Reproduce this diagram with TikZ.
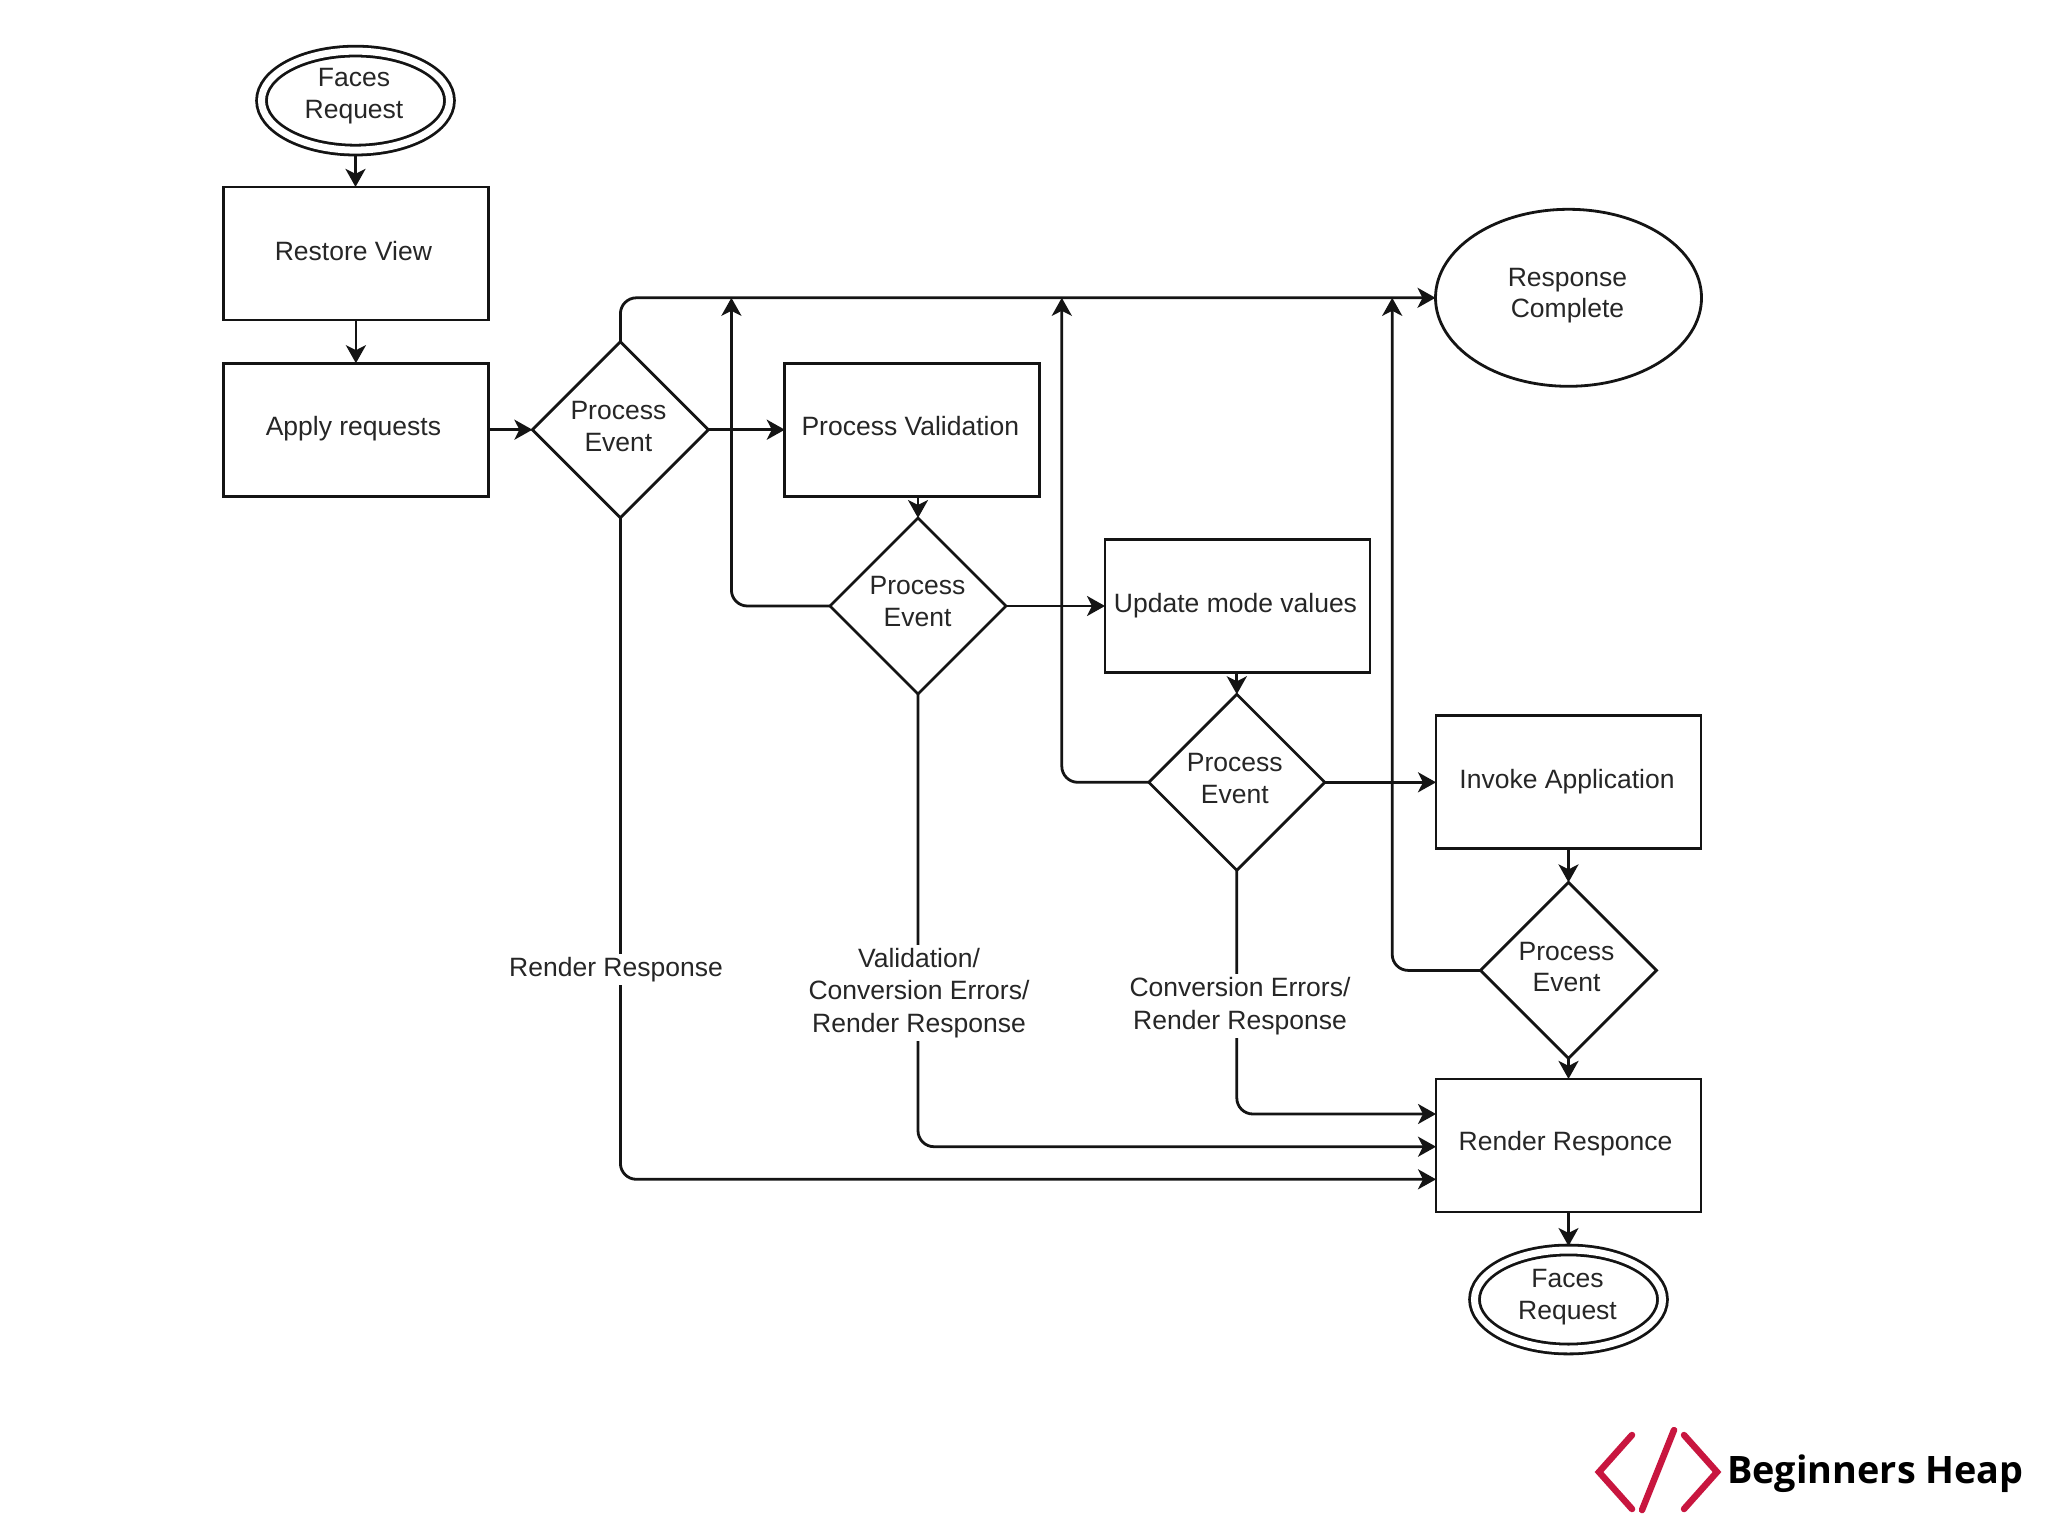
\documentclass[tikz,border=0pt]{standalone}
\usepackage{fontspec}
\setmainfont{Liberation Sans}
\newfontfamily\logofont{Open Sans}
\usetikzlibrary{arrows.meta,shapes.geometric}
\definecolor{ink}{HTML}{141414}
\definecolor{tagink}{HTML}{262626}
\definecolor{logored}{HTML}{C8163F}
\newcommand\nudge[3]{\raisebox{#2}[\height][\depth]{\begin{tabular}{@{}c@{}}#3\end{tabular}}\kern#1}
\tikzset{
  base/.style={draw=ink,line width=2.8pt,text=tagink,font=\fontsize{26.5}{31.5}\selectfont,inner sep=0pt,outer sep=0pt},
  boxnode/.style={base,rectangle,minimum width=265,minimum height=133},
  decision/.style={base,diamond,aspect=1,minimum width=176,minimum height=176},
  terminal/.style={base,ellipse,minimum width=188,minimum height=99,double=white,double distance=7pt,outer sep=4pt},
  finalnode/.style={base,ellipse,minimum width=266,minimum height=177},
  tag/.style={fill=white,text=tagink,font=\fontsize{26.5}{32.5}\selectfont,align=center,inner sep=3pt},
  flow/.style={draw=ink,line width=2.8pt,rounded corners=16pt,-{Stealth[length=18pt,width=20pt,inset=5pt]}},
  logoline/.style={draw=logored,line width=6.5pt,line cap=round,line join=miter}
}
\begin{document}
\begin{tikzpicture}[x=1pt,y=-1pt]
\useasboundingbox (0,0) rectangle (2048,1536);
\fill[white] (0,0) rectangle (2048,1536);

\node[terminal] (start) at (355.5,100.6) {\nudge{3pt}{4.5pt}{Faces\\Request}};
\node[boxnode] (restore) at (355.9,253.4) {\nudge{5pt}{-1pt}{Restore View}};
\node[boxnode] (apply) at (355.9,429.7) {\nudge{5pt}{0.5pt}{Apply requests}};
\node[decision] (d1) at (620.4,429.7) {\nudge{4pt}{0.5pt}{Process\\Event}};
\node[boxnode,minimum width=255] (valid) at (912.3,429.7) {\nudge{4pt}{0.5pt}{Process Validation}};
\node[decision] (d2) at (918,606) {\nudge{1pt}{2pt}{Process\\Event}};
\node[boxnode] (update) at (1237.5,606) {\nudge{4pt}{0pt}{Update mode values}};
\node[decision] (d3) at (1236.8,782.3) {\nudge{4pt}{1pt}{Process\\Event}};
\node[boxnode] (invoke) at (1568.5,782.3) {\nudge{3pt}{0.5pt}{Invoke Application}};
\node[decision] (d4) at (1568.5,970.4) {\nudge{4pt}{0.5pt}{Process\\Event}};
\node[boxnode] (render) at (1568.5,1145.4) {\nudge{6pt}{1.5pt}{Render Responce}};
\node[terminal] (end) at (1568.5,1299.5) {\nudge{2pt}{2.5pt}{Faces\\Request}};
\node[finalnode] (done) at (1568.5,297.8) {\nudge{2pt}{2pt}{Response\\Complete}};

\coordinate (j1) at (731.4,297.8);
\coordinate (j2) at (1061.8,297.8);
\coordinate (j3) at (1392.2,297.8);
\coordinate (r1) at (render.west |- 0,1114);
\coordinate (r2) at (render.west |- 0,1146.7);
\coordinate (r3) at (render.west |- 0,1179.3);

\draw[flow] (start.south) -- (restore.north -| start.south);
\draw[flow] (restore.south) -- (apply.north);
\draw[flow] (apply.east) -- (d1.west);
\draw[flow] (d1.east) -- (valid.west);
\draw[flow] (valid.south -| d2.north) -- (d2.north);
\draw[flow] (d2.east) -- (update.west);
\draw[flow] (update.south -| d3.north) -- (d3.north);
\draw[flow] (d3.east) -- (invoke.west);
\draw[flow] (invoke.south) -- (d4.north);
\draw[flow] (d4.south) -- (render.north);
\draw[flow] (render.south) -- (end.north);
\draw[flow] (d1.north) |- (done.west);
\draw[flow] (d2.west) -| (j1);
\draw[flow] (d3.west) -| (j2);
\draw[flow] (d4.west) -| (j3);
\draw[flow] (d1.south) |- (r3);
\draw[flow] (d2.south) |- (r2);
\draw[flow] (d3.south) |- (r1);

\node[tag] (l1) at (616,969.7) {Render Response};
\node[tag] (l2) at (919,993) {Validation/\\Conversion Errors/\\Render Response};
\node[tag] (l3) at (1240,1006) {Conversion Errors/\\Render Response};

\draw[logoline] (1632,1435) -- (1599,1472) -- (1632,1509);
\draw[logoline] (1674,1430) -- (1642,1510);
\draw[logoline] (1684,1435) -- (1717,1472) -- (1684,1509);
\node[anchor=base west,inner sep=0pt,text=black,font=\logofont\bfseries\fontsize{37.8}{45}\selectfont] (logo) at (1727,1483) {Beginners Heap};
\end{tikzpicture}
\end{document}
